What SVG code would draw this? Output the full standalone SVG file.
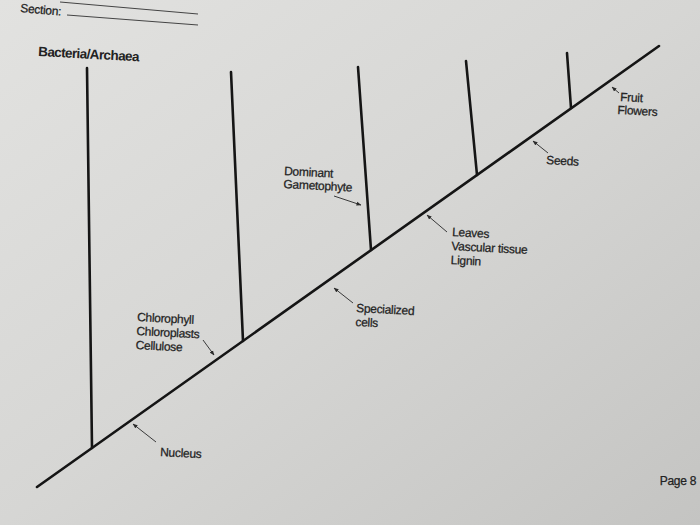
<svg xmlns="http://www.w3.org/2000/svg" width="700" height="525" viewBox="0 0 700 525">
<defs>
<linearGradient id="bg" x1="0" y1="0" x2="1" y2="1">
<stop offset="0" stop-color="#e2e2e0"/>
<stop offset="0.5" stop-color="#d6d6d4"/>
<stop offset="1" stop-color="#c4c4c2"/>
</linearGradient>
<marker id="ah" viewBox="0 0 10 10" refX="9" refY="5" markerWidth="5" markerHeight="5" orient="auto">
<path d="M0,1 L10,5 L0,9 z" fill="#2a2a2a"/>
</marker>
<style>
.lbl{font-family:"Liberation Sans",Arial,sans-serif;font-size:12px;fill:#222;stroke:#222;stroke-width:0.25;letter-spacing:-0.3px}
.bold{font-weight:bold;font-size:13.5px;letter-spacing:-0.6px;stroke-width:0}
.br{stroke:#151515;stroke-width:2.6;stroke-linecap:round;fill:none}
.ptr{stroke:#3a3a3a;stroke-width:1;fill:none}
.rule{stroke:#444;stroke-width:1;fill:none}
</style>
</defs>
<rect width="700" height="525" fill="url(#bg)"/>
<g id="header">
<text class="lbl" x="20" y="12" font-size="11" transform="rotate(5 20 12)">Section:</text>
<line class="rule" x1="60" y1="2" x2="198" y2="14"/>
<line class="rule" x1="67" y1="15" x2="198" y2="25"/>
</g>
<g id="connectors">
<line class="br" x1="37" y1="487" x2="659" y2="46"/>
<line class="br" x1="87" y1="68" x2="92" y2="448"/>
<line class="br" x1="231" y1="72" x2="243" y2="341"/>
<line class="br" x1="358" y1="67" x2="371" y2="250"/>
<line class="br" x1="466" y1="61" x2="477" y2="175"/>
<line class="br" x1="567" y1="53" x2="571" y2="108"/>
<line class="ptr" x1="156" y1="442" x2="133" y2="424" marker-end="url(#ah)"/>
<line class="ptr" x1="203" y1="340" x2="214" y2="355" marker-end="url(#ah)"/>
<line class="ptr" x1="334" y1="196" x2="361" y2="205" stroke-width="1.3" marker-end="url(#ah)"/>
<line class="ptr" x1="353" y1="303" x2="334" y2="288" marker-end="url(#ah)"/>
<line class="ptr" x1="447" y1="232" x2="427" y2="215" marker-end="url(#ah)"/>
<line class="ptr" x1="548" y1="153" x2="533" y2="141" marker-end="url(#ah)"/>
<line class="ptr" x1="619" y1="93" x2="612" y2="87" marker-end="url(#ah)"/>
</g>
<g id="bacteria"><text class="lbl bold" x="38" y="56" transform="rotate(3 38 56)">Bacteria/Archaea</text></g>
<g id="nucleus"><text class="lbl" x="160" y="456" transform="rotate(3 160 456)">Nucleus</text></g>
<g id="chlorophyll" transform="rotate(3 137 320)">
<text class="lbl" x="137" y="321">Chlorophyll</text>
<text class="lbl" x="137" y="335">Chloroplasts</text>
<text class="lbl" x="137" y="349">Cellulose</text>
</g>
<g id="gametophyte" transform="rotate(3 284 175)">
<text class="lbl" x="284" y="175">Dominant</text>
<text class="lbl" x="284" y="188">Gametophyte</text>
</g>
<g id="specialized" transform="rotate(3 356 312)">
<text class="lbl" x="356" y="312">Specialized</text>
<text class="lbl" x="356" y="326">cells</text>
</g>
<g id="leaves" transform="rotate(3 452 236)">
<text class="lbl" x="452" y="236">Leaves</text>
<text class="lbl" x="452" y="250">Vascular tissue</text>
<text class="lbl" x="452" y="264">Lignin</text>
</g>
<g id="seeds"><text class="lbl" x="546" y="164" transform="rotate(3 546 164)">Seeds</text></g>
<g id="fruit" transform="rotate(3 620 100)">
<text class="lbl" x="620" y="101">Fruit</text>
<text class="lbl" x="618" y="114">Flowers</text>
</g>
<g id="page"><text class="lbl" x="696" y="485" font-size="10" text-anchor="end" letter-spacing="-0.4">Page 8</text></g>
</svg>
